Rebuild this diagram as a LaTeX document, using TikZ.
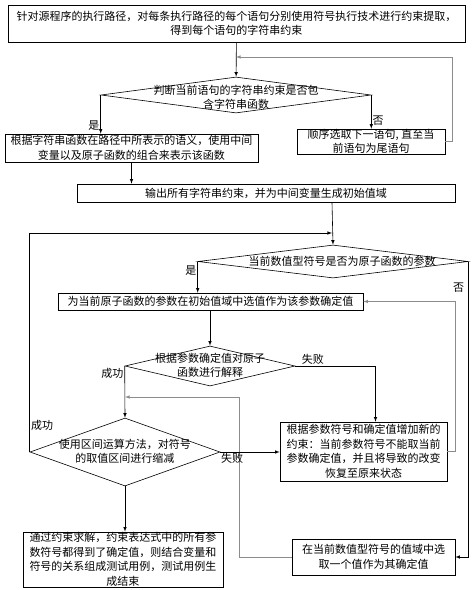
\documentclass[tikz,border=0pt]{standalone}
\usepackage{fontspec}
\setmainfont{Noto Sans CJK SC}
\usetikzlibrary{shapes.geometric}

\tikzset{
  procbox/.style={draw, rectangle, inner sep=0pt, align=center,
    font=\fontsize{11}{14.5}\selectfont},
  decbox/.style={draw, diamond, inner sep=0pt},
  dectext/.style={inner sep=0pt, align=center,
    font=\fontsize{11}{14}\selectfont},
  tag/.style={inner sep=1pt, font=\fontsize{11}{13}\selectfont},
  arr/.style={-latex, black},
  back/.style={-latex, black!45}
}

\begin{document}
\begin{tikzpicture}
  [x=1pt, y=-1pt, line width=0.6pt]
  \useasboundingbox (0,0) rectangle (474,590);

  % boxes
  \node [procbox, minimum width=457pt, minimum height=37pt] (extract) at (236.5,23.5)
    {针对源程序的执行路径，对每条执行路径的每个语句分别使用符号执行技术进行约束提取，\\得到每个语句的字符串约束};
  \node [procbox, minimum width=148pt, minimum height=25pt] (next) at (371,141.5)
    {顺序选取下一语句, 直至当\\前语句为尾语句};
  \node [procbox, minimum width=253pt, minimum height=28pt] (combine) at (131.5,148)
    {根据字符串函数在路径中所表示的语义，使用中间\\变量以及原子函数的组合来表示该函数};
  \node [procbox, minimum width=378pt, minimum height=18pt] (output) at (266,193)
    {输出所有字符串约束，并为中间变量生成初始值域};
  \node [procbox, minimum width=305pt, minimum height=17pt] (pick) at (210.5,301.5)
    {为当前原子函数的参数在初始值域中选值作为该参数确定值};
  \node [procbox, minimum width=167pt, minimum height=59pt] (addcons) at (363.5,451.5)
    {根据参数符号和确定值增加新的\\约束：当前参数符号不能取当前\\参数确定值，并且将导致的改变\\恢复至原来状态};
  \node [procbox, minimum width=163pt, minimum height=36pt] (choose) at (373.5,557)
    {在当前数值型符号的值域中选\\取一个值作为其确定值};
  \node [procbox, minimum width=200pt, minimum height=55pt] (finish) at (123,559.5)
    {通过约束求解，约束表达式中的所有参\\数符号都得到了确定值，则结合变量和\\符号的关系组成测试用例，测试用例生\\成结束};

  % decisions
  \node [decbox, minimum width=270pt, minimum height=36pt] (hasfunc) at (236,95) {};
  \node [dectext] (hasfunct) at (236,97) {判断当前语句的字符串约束是否包\\含字符串函数};
  \node [decbox, minimum width=270pt, minimum height=33pt] (isparam) at (333,261.5) {};
  \node [dectext] (isparamt) at (342,261.5) {当前数值型符号是否为原子函数的参数};
  \node [decbox, minimum width=170pt, minimum height=40pt] (interp) at (210,366) {};
  \node [dectext] (interpt) at (210,365) {根据参数确定值对原子\\函数进行解释};
  \node [decbox, minimum width=190pt, minimum height=68pt] (reduce) at (125,452) {};
  \node [dectext] (reducet) at (125,451.5) {使用区间运算方法，对符号\\的取值区间进行缩减};

  \coordinate (join1) at (236,57);
  \coordinate (join2) at (332,233);
  \coordinate (join3) at (125,397);

  % connectors
  \draw [arr] (extract) -- (hasfunc);
  \draw [arr] (hasfunc.west) -- (hasfunc.west |- combine.north)
    node [tag, pos=0.8, left] (yes1) {是};
  \draw [arr] (hasfunc.east) -- (hasfunc.east |- next.north)
    node [tag, pos=0.75, right] (no1) {否};
  \draw [back] (next.east) -- ++(7,0) |- (join1);
  \draw [arr] (combine.south) -- (combine.south |- output.north);
  \draw [arr] (output.south -| join2) -- (isparam.north);
  \draw [arr] (isparam.west) -- (isparam.west |- pick.north)
    node [tag, pos=0.3, left] (yes2) {是};
  \draw [arr] (isparam.east) |- (choose.east)
    node [tag, pos=0.045, left=3pt] (no2) {否};
  \draw [arr] (pick.south -| interp.north) -- (interp.north);
  \draw [arr] (interp.west) -- (reduce.north)
    node [tag, pos=0.15, left] (ok1) {成功};
  \draw [arr] (interp.east) -| ([xshift=12pt]addcons.north)
    node [tag, pos=0.11, above] (fail1) {失败};
  \draw [back] (addcons.east) -- ++(8,0) |- (pick.east);
  \draw [back] (choose.west) -- ++(-52,0) |- (join3);
  \draw [arr] (reduce.east) -- (reduce.east -| addcons.west)
    node [tag, pos=0.2, below] (fail2) {失败};
  \draw [arr] (reduce.west) |- (join2)
    node [tag, pos=0.06, right] (ok2) {成功};
  \draw [arr] (reduce.south) -- (reduce.south |- finish.north);
\end{tikzpicture}
\end{document}
